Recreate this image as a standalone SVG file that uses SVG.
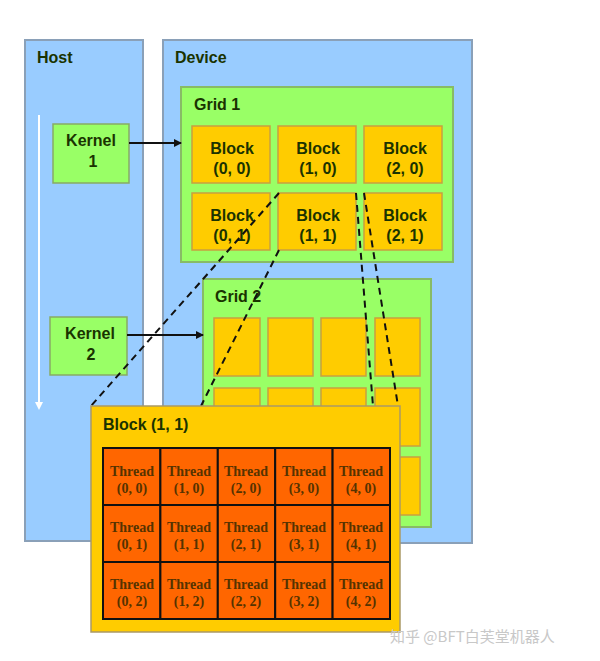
<svg xmlns="http://www.w3.org/2000/svg" width="600" height="661" viewBox="0 0 600 661">
<defs>
<style>
.pane{fill:#99ccff;stroke:#8aa0b8;stroke-width:2}
.grid{fill:#99ff66;stroke:#88bb66;stroke-width:2}
.blk{fill:#ffcc00;stroke:#c8a040;stroke-width:1.5}
.k{fill:#99ff66;stroke:#88aa66;stroke-width:1.5}
.t{font-family:"Liberation Sans",Arial,sans-serif;font-weight:bold;font-size:16px;fill:#1a3300}
.c{text-anchor:middle}
.th{fill:#ff6600;stroke:#111;stroke-width:2}
.tt{font-family:"Liberation Serif",serif;font-weight:bold;font-size:14px;fill:#553300;text-anchor:middle}
.dash{stroke:#111;stroke-width:2;stroke-dasharray:7,5;fill:none}
</style>
<marker id="ah" markerWidth="8" markerHeight="8" refX="7" refY="4" orient="auto" markerUnits="userSpaceOnUse"><path d="M0,0 L8,4 L0,8 z" fill="#111"/></marker>
</defs>
<rect width="600" height="661" fill="#fff"/>
<g id="host"><rect class="pane" x="25" y="40" width="118" height="501"/><text class="t" x="37" y="63">Host</text>
<line x1="39" y1="115" x2="39" y2="405" stroke="#fff" stroke-width="2"/><path d="M35,402 L39,410 L43,402z" fill="#fff"/></g>
<g id="device"><rect class="pane" x="163" y="40" width="309" height="503"/><text class="t" x="175" y="63">Device</text></g>
<g id="kernel1"><rect class="k" x="53" y="124" width="76" height="59"/><text class="t c" x="91" y="146">Kernel</text><text class="t c" x="93" y="167">1</text></g>
<g id="kernel2"><rect class="k" x="50" y="317" width="77" height="58"/><text class="t c" x="90" y="339">Kernel</text><text class="t c" x="91" y="360">2</text></g>
<g id="grid1"><rect class="grid" x="181" y="87" width="272" height="175"/><text class="t" x="194" y="110">Grid 1</text>
<rect class="blk" x="192" y="126" width="78" height="57"/><text class="t c" x="232" y="154">Block</text><text class="t c" x="232" y="174">(0, 0)</text>
<rect class="blk" x="278" y="126" width="78" height="57"/><text class="t c" x="318" y="154">Block</text><text class="t c" x="318" y="174">(1, 0)</text>
<rect class="blk" x="364" y="126" width="78" height="57"/><text class="t c" x="405" y="154">Block</text><text class="t c" x="405" y="174">(2, 0)</text>
<rect class="blk" x="192" y="193" width="78" height="57"/><text class="t c" x="232" y="221">Block</text><text class="t c" x="232" y="241">(0, 1)</text>
<rect class="blk" x="278" y="193" width="78" height="57"/><text class="t c" x="318" y="221">Block</text><text class="t c" x="318" y="241">(1, 1)</text>
<rect class="blk" x="364" y="193" width="78" height="57"/><text class="t c" x="405" y="221">Block</text><text class="t c" x="405" y="241">(2, 1)</text></g>
<g id="grid2"><rect class="grid" x="203" y="279" width="228" height="248"/><text class="t" x="215" y="302">Grid 2</text>
<rect class="blk" x="214" y="318" width="46" height="58"/><rect class="blk" x="268" y="318" width="45" height="58"/><rect class="blk" x="321" y="318" width="45" height="58"/><rect class="blk" x="375" y="318" width="45" height="58"/>
<rect class="blk" x="214" y="388" width="46" height="58"/><rect class="blk" x="268" y="388" width="45" height="58"/><rect class="blk" x="321" y="388" width="45" height="58"/><rect class="blk" x="375" y="388" width="45" height="58"/>
<rect class="blk" x="214" y="457" width="46" height="58"/><rect class="blk" x="268" y="457" width="45" height="58"/><rect class="blk" x="321" y="457" width="45" height="58"/><rect class="blk" x="375" y="457" width="45" height="58"/></g>
<g id="connectors">
<line x1="129" y1="143" x2="181" y2="143" stroke="#111" stroke-width="2" marker-end="url(#ah)"/>
<line x1="127" y1="335" x2="203" y2="335" stroke="#111" stroke-width="2" marker-end="url(#ah)"/>
<line class="dash" x1="279" y1="193" x2="91" y2="406"/>
<line class="dash" x1="279" y1="250" x2="201" y2="406"/>
<line class="dash" x1="356" y1="193" x2="373" y2="406"/>
<line class="dash" x1="364" y1="193" x2="398" y2="406"/>
</g>
<g id="block11"><rect x="91" y="406" width="309" height="226" fill="#ffcc00" stroke="#aa9966" stroke-width="1.5"/><text class="t" x="103" y="430">Block (1, 1)</text>
<g>
<rect class="th" x="103" y="448" width="57.4" height="57"/><rect class="th" x="160.4" y="448" width="57.4" height="57"/><rect class="th" x="217.8" y="448" width="57.4" height="57"/><rect class="th" x="275.2" y="448" width="57.4" height="57"/><rect class="th" x="332.6" y="448" width="57.4" height="57"/>
<rect class="th" x="103" y="505" width="57.4" height="57"/><rect class="th" x="160.4" y="505" width="57.4" height="57"/><rect class="th" x="217.8" y="505" width="57.4" height="57"/><rect class="th" x="275.2" y="505" width="57.4" height="57"/><rect class="th" x="332.6" y="505" width="57.4" height="57"/>
<rect class="th" x="103" y="562" width="57.4" height="57"/><rect class="th" x="160.4" y="562" width="57.4" height="57"/><rect class="th" x="217.8" y="562" width="57.4" height="57"/><rect class="th" x="275.2" y="562" width="57.4" height="57"/><rect class="th" x="332.6" y="562" width="57.4" height="57"/>
</g>
<g>
<text class="tt" x="132" y="476">Thread</text><text class="tt" x="132" y="493">(0, 0)</text>
<text class="tt" x="189" y="476">Thread</text><text class="tt" x="189" y="493">(1, 0)</text>
<text class="tt" x="246" y="476">Thread</text><text class="tt" x="246" y="493">(2, 0)</text>
<text class="tt" x="304" y="476">Thread</text><text class="tt" x="304" y="493">(3, 0)</text>
<text class="tt" x="361" y="476">Thread</text><text class="tt" x="361" y="493">(4, 0)</text>
<text class="tt" x="132" y="532">Thread</text><text class="tt" x="132" y="549">(0, 1)</text>
<text class="tt" x="189" y="532">Thread</text><text class="tt" x="189" y="549">(1, 1)</text>
<text class="tt" x="246" y="532">Thread</text><text class="tt" x="246" y="549">(2, 1)</text>
<text class="tt" x="304" y="532">Thread</text><text class="tt" x="304" y="549">(3, 1)</text>
<text class="tt" x="361" y="532">Thread</text><text class="tt" x="361" y="549">(4, 1)</text>
<text class="tt" x="132" y="589">Thread</text><text class="tt" x="132" y="606">(0, 2)</text>
<text class="tt" x="189" y="589">Thread</text><text class="tt" x="189" y="606">(1, 2)</text>
<text class="tt" x="246" y="589">Thread</text><text class="tt" x="246" y="606">(2, 2)</text>
<text class="tt" x="304" y="589">Thread</text><text class="tt" x="304" y="606">(3, 2)</text>
<text class="tt" x="361" y="589">Thread</text><text class="tt" x="361" y="606">(4, 2)</text>
</g></g>
<text x="390" y="642" font-family="'Noto Sans CJK SC',sans-serif" font-size="15" fill="#c8c8c8">知乎 @BFT白芙堂机器人</text>
</svg>
